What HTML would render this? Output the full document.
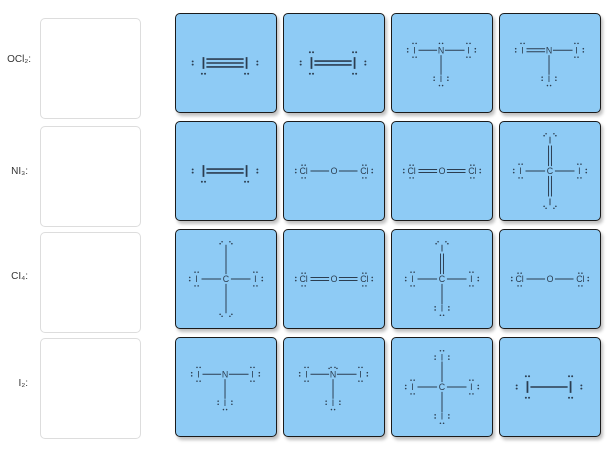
<!DOCTYPE html>
<html><head><style>
body{margin:0;width:610px;height:449px;background:#fff;position:relative;overflow:hidden;font-family:"Liberation Sans",sans-serif}
.lb{position:absolute;font-size:10px;color:#333;width:34px;text-align:right}
.eb{position:absolute;left:40px;width:99px;height:99px;border:1px solid #ddd;border-radius:5px;background:#fff}
.t{position:absolute;width:100px;height:98px;border:1px solid #1b1b1b;border-radius:5px;background:#8ecbf5;box-shadow:2px 3px 3px rgba(0,0,0,.25)}
.t svg{position:absolute;left:0;top:0}
</style></head><body>
<div class="lb" style="left:-3px;top:54px">OCl₂:</div>
<div class="lb" style="left:-6px;top:166px">NI₃:</div>
<div class="lb" style="left:-6px;top:271px">CI₄:</div>
<div class="lb" style="left:-6px;top:378px">I₂:</div>
<div class="eb" style="top:18px"></div>
<div class="eb" style="top:126px"></div>
<div class="eb" style="top:232px"></div>
<div class="eb" style="top:338px"></div>
<div id="g"></div>
<script>
var C='#2b3d50';
function L(a,b,c,d,w){return '<line x1="'+a+'" y1="'+b+'" x2="'+c+'" y2="'+d+'" stroke="'+C+'" stroke-width="'+(w||1)+'"/>';}
function T(x,y,s,f){return '<text x="'+x+'" y="'+(y+3.2)+'" font-size="'+(f||9)+'" text-anchor="middle" fill="'+C+'" font-family="Liberation Sans,sans-serif">'+s+'</text>';}
function dot(x,y,r){return '<circle cx="'+x+'" cy="'+y+'" r="'+(r||0.8)+'" fill="'+C+'"/>';}
function H(x,y,r){return dot(x-1.6,y,r)+dot(x+1.6,y,r);}
function V(x,y,r){return dot(x,y-1.6,r)+dot(x,y+1.6,r);}
// I with 3 pairs depending on open side
function Iat(x,y,side){var s=T(x,y,'I');
 if(side!='l')s+=V(x-7,y);if(side!='r')s+=V(x+7,y);
 if(side!='u')s+=H(x,y-7);if(side!='d')s+=H(x,y+7);return s;}
function ClOCl(dbl){var y=50,s=T(20,y,'Cl')+T(51,y,'O')+T(82,y,'Cl')+V(12,y)+V(90,y)+H(20,y-6)+H(82,y-6)+H(20,y+7)+H(82,y+7);
 if(dbl){s+=L(27,y-1.5,46,y-1.5)+L(27,y+1.5,46,y+1.5)+L(56,y-1.5,75,y-1.5)+L(56,y+1.5,75,y+1.5);}
 else s+=L(27,y,46,y)+L(56,y,75,y);return s;}
function II(n,above){var y=50,s='';s+=L(28,y-6,28,y+6,1.8)+L(72,y-6,72,y+6,1.8);
 var off=n==3?[-4,0,4]:[-2,2];off.forEach(function(o){s+=L(31,y+o,69,y+o,1.6)});
 s+=V(17,y,1)+V(83,y,1)+H(28,y+11,1)+H(72,y+11,1);if(above)s+=H(28,y-11,1)+H(72,y-11,1);return s;}
function ISingle(){var y=50,s=L(28,y-6,28,y+6,1.8)+L(72,y-6,72,y+6,1.8)+L(31,y,69,y,1.6);
 s+=V(17,y,1)+V(83,y,1)+H(28,y+11,1)+H(72,y+11,1)+H(28,y-11,1)+H(72,y-11,1);return s;}
function NI3(dblLeft,nPair){var y=37,s=T(50,y,'N')+L(54,y,74,y)+L(50,y+5,50,62)+Iat(78,y,'l')+Iat(50,66,'u');
 if(dblLeft){s+=L(27,y-1.5,46,y-1.5)+L(27,y+1.5,46,y+1.5)+T(23,y,'I')+V(16,y)+H(23,y-7);}
 else{s+=L(27,y,46,y)+Iat(23,y,'r');}
 if(nPair)s+=H(50,y-7);return s;}
function CI4(top,bot){var x=51,y=50,s=T(x,y,'C')+L(26,y,46,y)+L(56,y,76,y)+Iat(21,y,'r')+Iat(81,y,'r'.replace('r','l'));
 // top
 if(top==2){s+=L(x-1.5,y-5,x-1.5,y-26)+L(x+1.5,y-5,x+1.5,y-26)+L(x,y-28,x,y-35)+dot(x-6,y-36)+dot(x-4,y-38)+dot(x+4,y-38)+dot(x+6,y-36);}
 else if(top==1){s+=L(x,y-5,x,y-26)+T(x,y-30,'I')+V(x-7,y-30)+V(x+7,y-30)+H(x,y-37);}
 else{s+=L(x,y-5,x,y-35)+dot(x-6,y-36)+dot(x-4,y-38)+dot(x+4,y-38)+dot(x+6,y-36);}
 if(bot==2){s+=L(x-1.5,y+5,x-1.5,y+26)+L(x+1.5,y+5,x+1.5,y+26)+L(x,y+28,x,y+35)+dot(x-6,y+36)+dot(x-4,y+38)+dot(x+4,y+38)+dot(x+6,y+36);}
 else if(bot==1){s+=L(x,y+5,x,y+26)+T(x,y+30,'I')+V(x-7,y+30)+V(x+7,y+30)+H(x,y+37);}
 else{s+=L(x,y+5,x,y+35)+dot(x-6,y+36)+dot(x-4,y+38)+dot(x+4,y+38)+dot(x+6,y+36);}
 return s;}
var X=[175,283,391,499],Y=[13,121,229,337];
var tiles=[
[II(3,false),II(2,true),NI3(false,true),NI3(true,false)],
[II(2,false),ClOCl(false),ClOCl(true),CI4(2,2)],
[CI4(0,0),ClOCl(true),CI4(2,1),ClOCl(false)],
[NI3(false,false),NI3(false,true).replace('','')+'',CI4(1,1),ISingle()]];
// r4c2 has N with dots above (dotted)
tiles[3][1]=NI3(false,false)+dot(46,31)+dot(48,30)+dot(52,30)+dot(54,31);
var h='';
for(var r=0;r<4;r++)for(var c=0;c<4;c++){
 h+='<div class="t" style="left:'+X[c]+'px;top:'+Y[r]+'px"><svg width="100" height="98" viewBox="0 0 102 100">'+tiles[r][c]+'</svg></div>';}
document.getElementById('g').innerHTML=h;
</script>
</body></html>
